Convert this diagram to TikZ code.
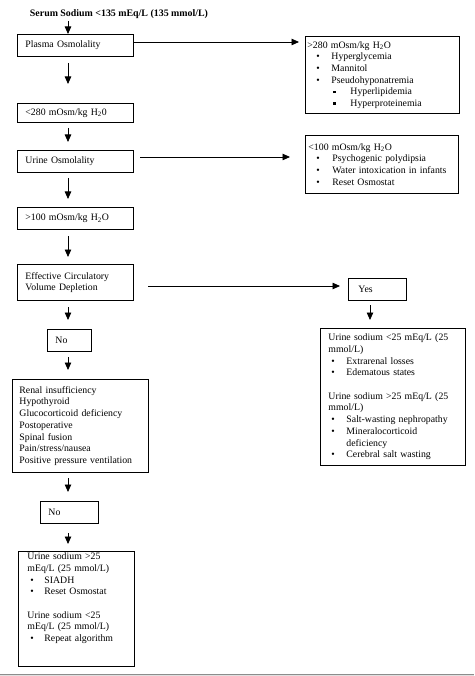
\documentclass[tikz,border=0pt]{standalone}
\usepackage{fontspec}
\setmainfont{Liberation Serif}
\usetikzlibrary{arrows.meta}
\begin{document}
\begin{tikzpicture}[x=1pt,y=-1pt,
  box/.style={draw, line width=0.9pt, anchor=north west, inner ysep=0pt, align=left,
    font=\fontsize{9.8}{11.7}\selectfont},
  titlestyle/.style={font=\fontsize{9.9}{12}\selectfont\bfseries, inner sep=0pt},
  arr/.style={line width=0.8pt, -{Triangle[width=6.5pt,length=7.5pt]}},
  bul/.style={},
]
\newcommand\bl[2]{\hspace*{#1pt}\makebox[#2pt][l]{\textbullet}}
\newcommand\sq[2]{\hspace*{#1pt}\makebox[#2pt][l]{\rule[1.7pt]{2.6pt}{2.6pt}}}
\useasboundingbox (0,0) rectangle (474,676);
\fill[white] (0,0) rectangle (474,676);
\fill[black!12] (0,674) rectangle (474,676);
\draw[black!45, line width=0.5pt] (0,674) -- (474,674);

\node[titlestyle] (title) at (119,14) {Serum Sodium <135 mEq/L (135 mmol/L)};

\node[box, inner xsep=8pt, text width=100pt, minimum height=22pt] (plasma) at (17,34) {Plasma Osmolality};
\node[box, inner xsep=8pt, text width=100pt, minimum height=19pt] (lt280) at (17,103) {<280 mOsm/kg H\textsubscript{2}0};
\node[box, inner xsep=8pt, text width=100pt, minimum height=22pt] (urine) at (17,150) {Urine Osmolality};
\node[box, inner xsep=8pt, text width=100pt, minimum height=22pt] (gt100) at (17,207) {>100 mOsm/kg H\textsubscript{2}O};
\node[box, inner xsep=8pt, text width=100pt, minimum height=36pt] (ecv) at (17,264) {Effective Circulatory\\Volume Depletion};
\node[box, inner xsep=8pt, text width=28pt, minimum height=22pt] (no1) at (47,329) {No};
\node[box, inner xsep=7pt, text width=122pt, minimum height=93pt] (renal) at (12,379) {Renal insufficiency\\Hypothyroid\\Glucocorticoid deficiency\\Postoperative\\Spinal fusion\\Pain/stress/nausea\\Positive pressure ventilation};
\node[box, inner xsep=8pt, text width=42pt, minimum height=22pt] (no2) at (40,501) {No};
\node[box, inner xsep=9pt, text width=98pt, minimum height=115pt] (bottom) at (18,551) {Urine sodium >25\\mEq/L (25 mmol/L)\\\bl{3}{14}SIADH\\\bl{3}{14}Reset Osmostat\\[11.7pt]Urine sodium <25\\mEq/L (25 mmol/L)\\\bl{3}{14}Repeat algorithm\\[11.7pt]\mbox{}};

\node[box, inner xsep=2pt, text width=150pt, minimum height=77pt] (rb1) at (305,36) {>280 mOsm/kg H\textsubscript{2}O\\\bl{9}{15}Hyperglycemia\\\bl{9}{15}Mannitol\\\bl{9}{15}Pseudohyponatremia\\\sq{26}{17}Hyperlipidemia\\\sq{26}{17}Hyperproteinemia};
\node[box, inner xsep=3pt, text width=147pt, minimum height=58pt] (rb2) at (305,135) {<100 mOsm/kg H\textsubscript{2}O\\\bl{8}{16}Psychogenic polydipsia\\\bl{8}{16}Water intoxication in infants\\\bl{8}{16}Reset Osmostat};
\node[box, inner xsep=10pt, text width=38pt, minimum height=22pt] (yes) at (348,278) {Yes};
\node[box, inner xsep=8pt, text width=129pt, minimum height=137pt] (rb3) at (320,328) {Urine sodium <25 mEq/L (25\\mmol/L)\\\bl{3}{15}Extrarenal losses\\\bl{3}{15}Edematous states\\[11.7pt]Urine sodium >25 mEq/L (25\\mmol/L)\\\bl{3}{15}Salt-wasting nephropathy\\\bl{3}{15}Mineralocorticoid\\\hspace*{18pt}deficiency\\\bl{3}{15}Cerebral salt wasting};

% arrow end points
\coordinate (a0s) at (68,21);
\coordinate (a1s) at (68,63);  \coordinate (a1e) at (68,84);
\coordinate (a2s) at (68,128); \coordinate (a2e) at (68,142);
\coordinate (a3s) at (68,178); \coordinate (a3e) at (68,199);
\coordinate (a4s) at (68,236); \coordinate (a4e) at (68,257);
\coordinate (a5s) at (68,307); \coordinate (a5e) at (68,320);
\coordinate (a6s) at (68,357); \coordinate (a6e) at (68,370);
\coordinate (a7s) at (68,478); \coordinate (a7e) at (68,492);
\coordinate (a8s) at (68,533); \coordinate (a8e) at (68,544);
\coordinate (a9s) at (370,305); \coordinate (a9e) at (370,320);
\coordinate (h1s) at (133,42);  \coordinate (h1e) at (299,42);
\coordinate (h2s) at (140,157); \coordinate (h2e) at (290,157);
\coordinate (h3s) at (148,286); \coordinate (h3e) at (340,286);

\draw[arr] (a0s) -- (a0s |- plasma.north);
\draw[arr] (a1s) -- (a1e);
\draw[arr] (a2s) -- (a2e);
\draw[arr] (a3s) -- (a3e);
\draw[arr] (a4s) -- (a4e);
\draw[arr] (a5s) -- (a5e);
\draw[arr] (a6s) -- (a6e);
\draw[arr] (a7s) -- (a7e);
\draw[arr] (a8s) -- (a8e);
\draw[arr] (a9s) -- (a9e);
\draw[arr] (h1s) -- (h1e);
\draw[arr] (h2s) -- (h2e);
\draw[arr] (h3s) -- (h3e);
\end{tikzpicture}
\end{document}
